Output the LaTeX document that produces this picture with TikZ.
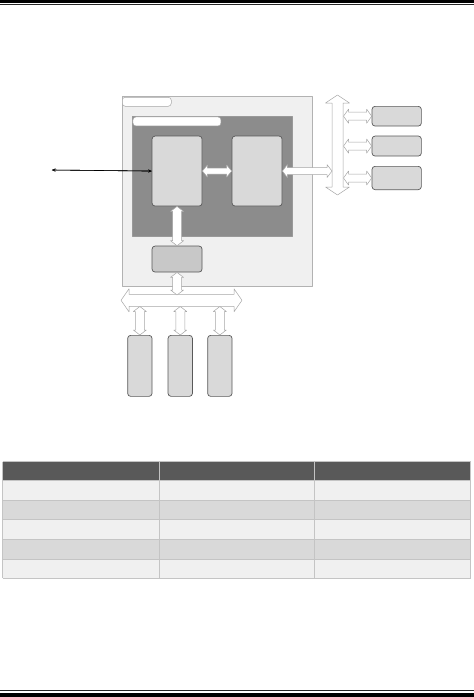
\documentclass[tikz,border=0pt]{standalone}
\usetikzlibrary{calc}
\definecolor{PanelGray}{HTML}{F0F0F0}
\definecolor{CoreGray}{HTML}{8C8C8C}
\definecolor{BlockGray}{HTML}{D9D9D9}
\definecolor{BufGray}{HTML}{C8C8C8}
\definecolor{EdgeGray}{HTML}{A6A6A6}
\definecolor{HeadGray}{HTML}{595959}
\definecolor{TableLine}{HTML}{C4C4C4}
\newcommand\fatarrow[5]{% ends, shaft half width, head half width, head length
  \draw[fatline] (#1) -- ($($(#1)!#5!(#2)$)!#4!90:(#2)$) -- ($($(#1)!#5!(#2)$)!#3!90:(#2)$)
    -- ($($(#2)!#5!(#1)$)!#3!-90:(#1)$) -- ($($(#2)!#5!(#1)$)!#4!-90:(#1)$) -- (#2)
    -- ($($(#2)!#5!(#1)$)!#4!90:(#1)$) -- ($($(#2)!#5!(#1)$)!#3!90:(#1)$)
    -- ($($(#1)!#5!(#2)$)!#3!-90:(#2)$) -- ($($(#1)!#5!(#2)$)!#4!-90:(#2)$) -- cycle;}
\begin{document}
\begin{tikzpicture}[x=1pt,y=-1pt,line join=round,
  blk/.style={draw=black!65,fill=BlockGray,rounded corners=3pt,line width=0.7pt,inner sep=0pt,anchor=north west},
  tab/.style={draw=gray!70,fill=white,rounded corners=3pt,line width=0.5pt,inner sep=0pt,anchor=north west,minimum height=9pt},
  fatline/.style={draw=EdgeGray,fill=white,line width=0.5pt}]
  \useasboundingbox (0,0) rectangle (474,697);
  \draw[black,line width=2.6pt] (0,1.3) -- (474,1.3); \draw[black!85,line width=1.5pt] (0,4.5) -- (474,4.5);
  \draw[black!85,line width=1.3pt] (0,690.6) -- (474,690.6); \draw[black,line width=3.7pt] (0,695.2) -- (474,695.2);
  \node[draw=gray!60,fill=PanelGray,line width=0.6pt,minimum width=190pt,minimum height=190pt,inner sep=0pt,anchor=north west] (sys) at (122,96) {};
  \node[tab,minimum width=49pt] (systab) at (122,97) {};
  \node[draw=gray!80,fill=CoreGray,line width=0.5pt,minimum width=160pt,minimum height=120pt,inner sep=0pt,anchor=north west] (core) at (131.7,115.7) {};
  \node[tab,minimum width=88pt] (coretab) at (132.7,116.7) {};
  \node[blk,minimum width=50pt,minimum height=70pt] (cpu) at (151.7,135.7) {};
  \node[blk,minimum width=50pt,minimum height=70pt] (dsp) at (231.7,135.7) {};
  \node[blk,fill=BufGray,minimum width=50pt,minimum height=26pt] (bridge) at (151.7,245.7) {};
  \foreach \n/\y/\h in {1/106/19.7,2/135.7/20,3/166/23.3} \node[blk,minimum width=49.3pt,minimum height=\h pt] (per\n) at (371.7,\y) {};
  \foreach \n/\x in {1/127.3,2/167.7,3/207.3} \node[blk,minimum width=24.4pt,minimum height=61pt] (mem\n) at (\x,335) {};
  \coordinate (ext) at (52,170); \coordinate (vtop) at (337.5,95); \coordinate (vbot) at (337.5,195);
  \coordinate (hl) at (121,300.3); \coordinate (hr) at (242,300.3);
  \coordinate (dspout) at (dsp.east -| 332,0); \coordinate (bridgeout) at (bridge.south |- 0,295);
  \foreach \n in {1,2,3} {\coordinate (perin\n) at (per\n.west -| 343.5,0); \coordinate (memin\n) at (mem\n.north |- 0,306.5);}
  \fatarrow{vtop}{vbot}{5.5pt}{12pt}{8pt}
  \fatarrow{hl}{hr}{6pt}{11.5pt}{8pt}
  \fatarrow{cpu.east}{dsp.west}{3pt}{6pt}{5pt}
  \fatarrow{dsp.east}{dspout}{3.5pt}{6.5pt}{5pt}
  \foreach \n in {1,2,3} {\fatarrow{perin\n}{per\n.west}{4pt}{7pt}{5pt}}
  \fatarrow{cpu.south}{bridge.north}{4.5pt}{6.5pt}{5pt}
  \fatarrow{bridge.south}{bridgeout}{4.5pt}{6.5pt}{5pt}
  \foreach \n in {1,2,3} {\fatarrow{memin\n}{mem\n.north}{4.5pt}{6.5pt}{5pt}}
  \draw[black,line width=0.6pt,-stealth] (cpu.west) -- (ext);
  \draw[black,line width=0.6pt,-stealth] (ext) -- (cpu.west);
  \foreach \t/\b/\c in {461.7/480.7/HeadGray,480.7/500/PanelGray,500/519.7/BlockGray,519.7/539/PanelGray,539/559/BlockGray,559/578.3/PanelGray}
    \fill[\c] (2.7,\t) rectangle (470.7,\b);
  \foreach \y in {461.7,480.7,500,519.7,539,559,578.3} \draw[TableLine,line width=0.6pt] (2.7,\y) -- (470.7,\y);
  \foreach \x in {2.7,159,314.3,470.7} \draw[TableLine,line width=0.6pt] (\x,461.7) -- (\x,578.3);
\end{tikzpicture}
\end{document}
